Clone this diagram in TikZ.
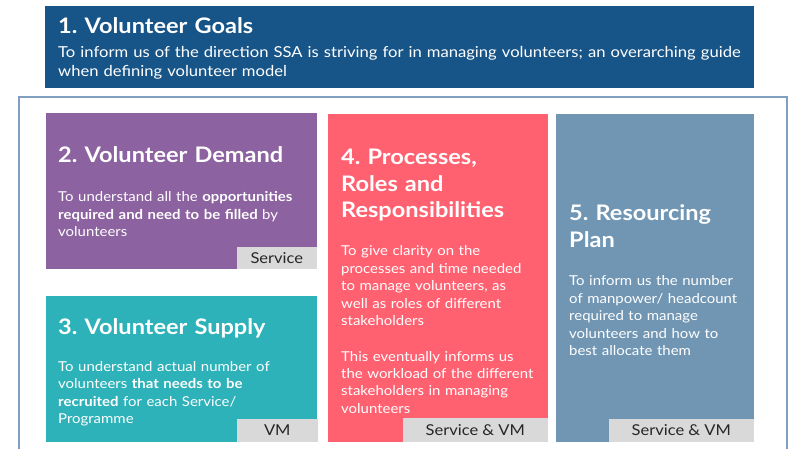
\documentclass[tikz,border=0pt]{standalone}
\usepackage{fontspec}
\setmainfont{Lato}[FakeStretch=1.1]
\frenchspacing
\definecolor{bannerblue}{HTML}{175487}
\definecolor{framecol}{HTML}{819FBE}
\definecolor{purplebox}{HTML}{8C62A0}
\definecolor{tealbox}{HTML}{2EB2B9}
\definecolor{redbox}{HTML}{FF6171}
\definecolor{steelbox}{HTML}{7096B4}
\definecolor{taggrey}{HTML}{D9D9D9}
\definecolor{tagtext}{HTML}{262626}
\tikzset{
  tagbox/.style={fill=taggrey, inner sep=0pt, text=tagtext, font=\fontsize{15}{17}\selectfont},
  ttl/.style={anchor=base west, inner sep=0pt, text=white, align=left, text width=#1, font=\fontsize{21.4}{26.5}\selectfont\bfseries},
  bodytxt/.style={anchor=base west, inner sep=0pt, text=white, align=left, text width=#1, font=\fontsize{13.6}{17.5}\selectfont},
}
\begin{document}
\begin{tikzpicture}[x=1pt,y=-1pt]
\useasboundingbox (0,0) rectangle (798,449);
% banner
\fill[bannerblue] (45,6) rectangle (754,88);
\node[ttl=690pt, font=\fontsize{21.4}{26}\selectfont\bfseries] (gt) at (58,34) {1. Volunteer Goals};
\node[bodytxt=700pt, font=\fontsize{15.1}{19}\selectfont] (gb) at (58,57.5) {To inform us of the direction SSA is striving for in managing volunteers; an overarching guide\\when defining volunteer model};
% frame
\draw[framecol, line width=2pt] (19,97) rectangle (787,470);
% box 2
\fill[purplebox] (46,113) rectangle (317,269);
\node[tagbox, minimum width=80pt, minimum height=22pt, anchor=south east] (t2) at (317,269) {Service};
\node[ttl=255pt] (h2) at (58,163) {2. Volunteer Demand};
\node[bodytxt=255pt] (b2) at (58,202) {To understand all the \textbf{opportunities}\\\textbf{required and need to be filled} by\\volunteers};
% box 3
\fill[tealbox] (46,296) rectangle (317,442);
\node[tagbox, minimum width=81pt, minimum height=23pt, anchor=south east] (t3) at (318,442) {VM};
\node[ttl=255pt] (h3) at (58,334) {3. Volunteer Supply};
\node[bodytxt=255pt] (b3) at (58,371) {To understand actual number of\\volunteers \textbf{that needs to be}\\\textbf{recruited} for each Service/\\Programme};
% box 4
\fill[redbox] (328,114) rectangle (548,442);
\node[tagbox, minimum width=145pt, minimum height=24pt, anchor=south east] (t4) at (548,442) {Service \& VM};
\node[ttl=205pt] (h4) at (341,165) {4. Processes,\\Roles and\\Responsibilities};
\node[bodytxt=205pt] (b4) at (341,256) {To give clarity on the\\processes and time needed\\to manage volunteers, as\\well as roles of different\\stakeholders\\[17.5pt]This eventually informs us\\the workload of the different\\stakeholders in managing\\volunteers};
% box 5
\fill[steelbox] (556,114) rectangle (754,442);
\node[tagbox, minimum width=145pt, minimum height=23pt, anchor=south east] (t5) at (754,442) {Service \& VM};
\node[ttl=183pt] (h5) at (569,221) {5. Resourcing\\Plan};
\node[bodytxt=183pt] (b5) at (569,285.5) {To inform us the number\\of manpower/ headcount\\required to manage\\volunteers and how to\\best allocate them};
\end{tikzpicture}
\end{document}
